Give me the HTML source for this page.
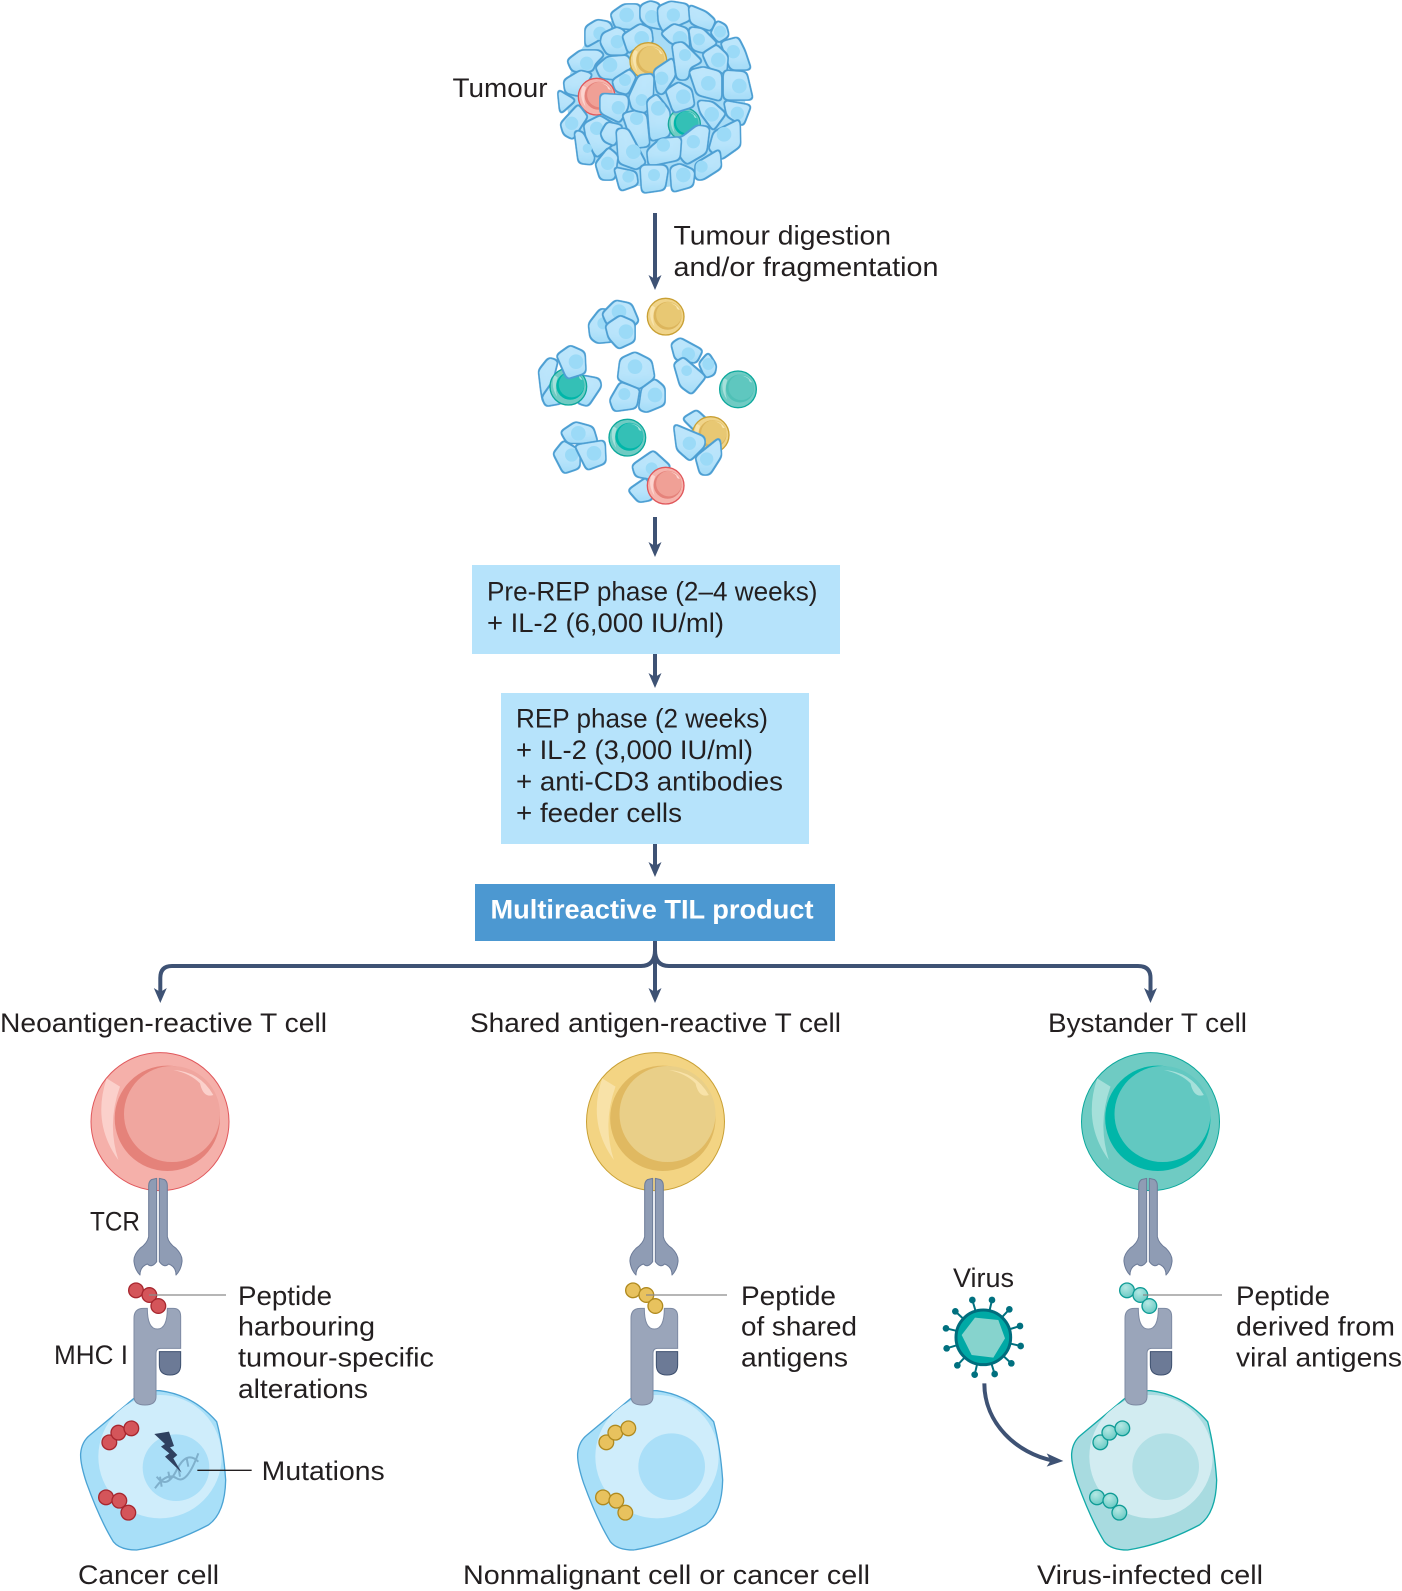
<!DOCTYPE html>
<html><head><meta charset="utf-8"><style>
html,body{margin:0;padding:0;background:#fff}
svg{display:block}
text{font-family:"Liberation Sans",sans-serif;font-size:27px;fill:#231f20}
.c{fill:url(#cg);filter:url(#rd)}
.n{fill:#9bdaf7}
.l{fill:none;stroke:#3e5274;stroke-width:4}
.h{fill:#3e5274}
.g{stroke:#8a8a8a;stroke-width:1.3}
.ye{--a:#f0d48a;--b:#f8e4ad;--d:#dcb55c;--e:#c9a034;--f:#e8c873}
.re{--a:#f6b4ad;--b:#fcd4cf;--d:#e5827a;--e:#e0575b;--f:#f0a096}
.te{--a:#6fcbc3;--b:#a5e0da;--d:#00b6a9;--e:#0ca89c;--f:#34c0b6}
.tl{--a:#6fcbc3;--b:#a5e0da;--d:#4fc0b6;--e:#0ca89c;--f:#5fc7bf}
</style></head><body>
<svg width="1402" height="1591" viewBox="0 0 1402 1591" xmlns="http://www.w3.org/2000/svg">
<defs>
<linearGradient id="cg" x1="0" y1="0" x2="0" y2="1"><stop offset="0" stop-color="#bfe7fc"/><stop offset="0.65" stop-color="#b8e4fb"/><stop offset="1" stop-color="#a3dcf8"/></linearGradient>
<radialGradient id="tp" cx=".4" cy=".3" r=".7"><stop offset="0" stop-color="#b5e8e4"/><stop offset="1" stop-color="#6ccbc5"/></radialGradient>
<filter id="rd" x="-20%" y="-20%" width="140%" height="140%" color-interpolation-filters="sRGB">
<feGaussianBlur in="SourceGraphic" stdDeviation="7" result="b"/>
<feComponentTransfer in="b" result="s"><feFuncA type="linear" slope="10" intercept="-3"/></feComponentTransfer>
<feMorphology in="s" operator="erode" radius="4.5" result="e"/>
<feFlood flood-color="#4d9fd3"/><feComposite in2="s" operator="in" result="o"/>
<feMerge><feMergeNode in="o"/><feMergeNode in="e"/></feMerge>
</filter>
<g id="tcell">
<circle cx="300" cy="245" r="207" style="fill:var(--a);stroke:var(--e)" stroke-width="3"/>
<path d="M140 115Q95 250 175 360Q140 250 180 140Z" style="fill:var(--b)"/>
<circle cx="322" cy="235" r="158" style="fill:var(--d)"/>
<circle cx="336" cy="222" r="144" style="fill:var(--f)"/>
<path d="M340 90Q420 95 460 165Q430 175 420 130Q390 100 340 90Z" style="fill:var(--b)"/>
</g>
<g id="tcr" fill="#8f9cb4" stroke="#6c7b98" stroke-width="3" stroke-linejoin="round">
<path d="M290 415L274 419Q266 425 266 437V590Q262 610 240 625Q220 645 222 665Q225 690 240 705Q240 680 262 672Q275 685 290 665Z"/>
<path d="M298 415L314 419Q322 425 322 437V590Q326 610 348 625Q368 645 366 665Q363 690 348 705Q348 680 326 672Q313 685 298 665Z"/>
</g>
<g id="mhc">
<path d="M222 320V85Q222 55 250 55H262Q262 117 292 117Q322 117 322 55H340Q362 55 362 80V175H302Q288 175 288 190V320Q288 345 255 345Q222 345 222 320Z" fill="#9aa5ba" stroke="#7d8aa3" stroke-width="3"/>
<path d="M298 185H362V225Q362 255 330 255Q298 255 298 225Z" fill="#6c7a96" stroke="#3f5170" stroke-width="3"/>
</g>
<path id="cellp" d="M62 490Q65 455 90 435L222 325Q255 300 300 302Q400 315 470 395Q490 470 497 570Q495 670 445 705Q330 765 230 780Q180 780 160 755Q120 690 80 580Q60 520 62 490Z"/>
<clipPath id="cc"><use href="#cellp"/></clipPath>
</defs>

<!-- Tumour -->
<g transform="translate(500 0) scale(.33333)">
<circle cx="468" cy="295" r="268" fill="#a8dcf6"/>
<polygon class="c" points="330,40 370,12 420,12 430,70 420,90 345,85"/><circle class="n" cx="380" cy="45" r="22"/>
<polygon class="c" points="420,15 450,2 480,10 490,90 440,80 420,60"/><circle class="n" cx="455" cy="50" r="20"/>
<polygon class="c" points="472,20 510,3 565,12 575,60 540,75 490,100 475,70"/><circle class="n" cx="520" cy="45" r="20"/>
<polygon class="c" points="565,12 620,35 648,60 635,95 590,80 570,70"/>
<polygon class="c" points="650,60 680,75 688,110 655,130 630,100"/><circle class="n" cx="660" cy="95" r="18"/>
<polygon class="c" points="255,80 290,58 330,65 340,85 300,120 255,145"/><circle class="n" cx="300" cy="100" r="20"/>
<polygon class="c" points="305,100 350,80 375,90 385,165 320,165 300,130"/><circle class="n" cx="352" cy="125" r="20"/>
<polygon class="c" points="365,105 420,70 455,85 460,130 400,150 385,165"/><circle class="n" cx="425" cy="115" r="22"/>
<polygon class="c" points="480,100 520,70 565,85 570,150 510,130"/><circle class="n" cx="540" cy="115" r="22"/>
<polygon class="c" points="565,80 610,85 655,130 610,160 575,150"/><circle class="n" cx="597" cy="118" r="18"/>
<polygon class="c" points="660,125 715,110 735,150 755,210 690,210"/><circle class="n" cx="700" cy="155" r="20"/>
<polygon class="c" points="605,160 650,132 685,165 680,225 625,205"/><circle class="n" cx="655" cy="180" r="22"/>
<polygon class="c" points="200,180 240,150 300,150 315,165 285,195 280,215 215,215"/><circle class="n" cx="260" cy="190" r="20"/>
<polygon class="c" points="285,200 320,170 385,165 400,200 350,240 300,235"/><circle class="n" cx="330" cy="195" r="22"/>
<g class="ye" transform="translate(445 183) scale(.2657) translate(-300 -245)"><use href="#tcell"/></g><circle cx="445" cy="183" r="55" fill="none" stroke="#c9a034" stroke-width="4"/>
<polygon class="c" points="335,240 390,205 410,230 385,285 345,275"/><circle class="n" cx="375" cy="240" r="18"/>
<polygon class="c" points="460,210 520,170 527,230 490,285 470,280"/><circle class="n" cx="485" cy="235" r="20"/>
<polygon class="c" points="515,130 550,125 610,185 570,205 565,240 530,240"/><circle class="n" cx="555" cy="165" r="18"/>
<polygon class="c" points="565,210 610,200 665,215 665,305 590,285"/><circle class="n" cx="625" cy="250" r="22"/>
<polygon class="c" points="670,210 740,215 760,300 670,300"/><circle class="n" cx="718" cy="258" r="22"/>
<polygon class="c" points="190,240 240,210 280,220 240,290 195,280"/>
<polygon class="c" points="172,265 195,280 230,300 180,345"/>
<g class="re" transform="translate(290 290) scale(.2657) translate(-300 -245)"><use href="#tcell"/></g><circle cx="290" cy="290" r="55" fill="none" stroke="#e0575b" stroke-width="4"/>
<polygon class="c" points="300,280 385,285 385,325 360,370 300,340"/><circle class="n" cx="355" cy="323" r="20"/>
<polygon class="c" points="180,370 235,310 265,350 245,380 220,420 190,405"/><circle class="n" cx="215" cy="370" r="20"/>
<polygon class="c" points="670,300 755,315 730,380 680,350"/><circle class="n" cx="712" cy="340" r="20"/>
<polygon class="c" points="590,300 640,305 680,340 640,395 600,340"/><circle class="n" cx="635" cy="343" r="22"/>
<polygon class="c" points="250,370 300,345 350,375 345,430 290,475 260,430"/><circle class="n" cx="290" cy="385" r="20"/>
<polygon class="c" points="300,400 320,365 370,375 345,440 310,425"/>
<polygon class="c" points="365,340 410,330 440,340 450,440 400,445"/><circle class="n" cx="410" cy="355" r="20"/>
<polygon class="c" points="385,290 415,225 462,220 460,290 440,340 395,330"/><circle class="n" cx="425" cy="300" r="18"/>
<polygon class="c" points="440,300 470,280 510,330 510,410 450,425"/><circle class="n" cx="475" cy="325" r="22"/>
<g class="te" transform="translate(553 372) scale(.2319) translate(-300 -245)"><use href="#tcell"/></g><circle cx="553" cy="372" r="48" fill="none" stroke="#17a89d" stroke-width="4"/>
<polygon class="c" points="495,270 535,245 575,265 585,320 520,340"/><circle class="n" cx="550" cy="290" r="22"/>
<polygon class="c" points="640,395 720,355 722,440 665,480 625,450"/><circle class="n" cx="672" cy="403" r="22"/>
<polygon class="c" points="222,390 250,395 285,470 280,495 235,490"/><circle class="n" cx="262" cy="445" r="14"/>
<polygon class="c" points="348,385 385,385 440,490 410,510 355,490"/><circle class="n" cx="400" cy="455" r="22"/>
<polygon class="c" points="510,420 545,410 590,375 630,380 620,460 560,495 545,480"/><circle class="n" cx="580" cy="425" r="20"/>
<polygon class="c" points="440,450 480,415 545,410 540,480 445,500"/><circle class="n" cx="490" cy="435" r="20"/>
<polygon class="c" points="285,490 325,440 355,465 345,540 300,540"/><circle class="n" cx="323" cy="490" r="20"/>
<polygon class="c" points="340,500 410,515 415,555 360,575"/><circle class="n" cx="385" cy="530" r="18"/>
<polygon class="c" points="420,495 500,495 505,510 495,570 425,580"/><circle class="n" cx="462" cy="525" r="18"/>
<polygon class="c" points="510,500 540,490 585,510 580,560 515,578"/><circle class="n" cx="550" cy="525" r="22"/>
<polygon class="c" points="585,490 660,445 665,505 610,540 585,540"/><circle class="n" cx="605" cy="500" r="18"/>
</g>

<!-- Dissociated -->
<g transform="translate(520 280) scale(.33333)">
<polygon class="c" points="205,130 240,85 270,90 285,185 230,190 210,175"/><circle class="n" cx="250" cy="130" r="18"/>
<polygon class="c" points="245,100 285,60 335,70 358,125 340,140 260,135"/><circle class="n" cx="297" cy="95" r="22"/>
<polygon class="c" points="255,135 300,105 345,125 345,185 295,208 265,175"/><circle class="n" cx="318" cy="155" r="22"/>
<g class="ye" transform="translate(437 110) scale(.2657) translate(-300 -245)"><use href="#tcell"/></g><circle cx="437" cy="110" r="55" fill="none" stroke="#c9a034" stroke-width="4"/>
<polygon class="c" points="55,270 85,232 115,240 100,300 70,380 62,330"/>
<polygon class="c" points="65,350 100,300 130,370 75,380"/>
<polygon class="c" points="185,285 240,295 245,320 205,380 170,370"/>
<g class="te" transform="translate(145 320) scale(.2657) translate(-300 -245)"><use href="#tcell"/></g><circle cx="145" cy="320" r="55" fill="none" stroke="#0ca89c" stroke-width="4"/>
<polygon class="c" points="108,225 150,195 195,215 198,280 140,298"/><circle class="n" cx="168" cy="245" r="22"/>
<polygon class="c" points="268,360 300,305 360,325 350,385 280,395"/><circle class="n" cx="313" cy="342" r="18"/>
<polygon class="c" points="355,390 365,320 405,295 435,320 435,375 380,398"/><circle class="n" cx="405" cy="345" r="22"/>
<polygon class="c" points="292,300 300,235 345,215 395,240 405,295 360,328"/><circle class="n" cx="345" cy="260" r="22"/>
<polygon class="c" points="452,190 480,172 550,210 530,250 465,240"/><circle class="n" cx="505" cy="222" r="20"/>
<polygon class="c" points="535,250 565,215 590,255 585,285 555,295"/><circle class="n" cx="565" cy="252" r="18"/>
<polygon class="c" points="460,250 490,230 560,290 515,345 480,320"/><circle class="n" cx="500" cy="272" r="16"/>
<g class="tl" transform="translate(654 328) scale(.2657) translate(-300 -245)"><use href="#tcell"/></g><circle cx="654" cy="328" r="55" fill="none" stroke="#0ca89c" stroke-width="4"/>
<polygon class="c" points="120,455 165,425 220,440 235,490 140,490"/><circle class="n" cx="175" cy="460" r="22"/>
<polygon class="c" points="98,520 130,480 180,510 180,565 130,582"/><circle class="n" cx="155" cy="525" r="20"/>
<polygon class="c" points="162,495 255,480 258,550 200,572"/><circle class="n" cx="222" cy="520" r="22"/>
<g class="te" transform="translate(322 473) scale(.2657) translate(-300 -245)"><use href="#tcell"/></g><circle cx="322" cy="473" r="55" fill="none" stroke="#0ca89c" stroke-width="4"/>
<polygon class="c" points="485,415 530,388 565,420 540,470"/>
<g class="ye" transform="translate(572 465) scale(.2657) translate(-300 -245)"><use href="#tcell"/></g><circle cx="572" cy="465" r="55" fill="none" stroke="#c9a034" stroke-width="4"/>
<polygon class="c" points="460,430 555,470 555,500 510,545 470,510"/><circle class="n" cx="508" cy="490" r="20"/>
<polygon class="c" points="525,530 600,470 605,530 570,585 540,585"/><circle class="n" cx="560" cy="537" r="20"/>
<polygon class="c" points="335,555 400,510 455,560 400,600 345,590"/><circle class="n" cx="395" cy="565" r="18"/>
<polygon class="c" points="322,630 380,590 400,660 355,668"/>
<g class="re" transform="translate(437 617) scale(.2657) translate(-300 -245)"><use href="#tcell"/></g><circle cx="437" cy="617" r="55" fill="none" stroke="#e0575b" stroke-width="4"/>
</g>

<!-- Arrows -->
<path class="l" d="M655 213V282M655 517V552M655 653V683M655 844V872"/>
<polygon class="h" points="648.500,275 655,279 661.500,275 655,290"/>
<polygon class="h" points="648.500,542 655,546 661.500,542 655,557"/>
<polygon class="h" points="648.500,673 655,677 661.500,673 655,688"/>
<polygon class="h" points="648.500,862 655,866 661.500,862 655,877"/>

<!-- Boxes -->
<rect x="472" y="565" width="368" height="89" fill="#b6e3fb"/>
<rect x="501" y="693" width="308" height="151" fill="#b6e3fb"/>
<rect x="475" y="884" width="360" height="57" fill="#4c98d1"/>

<!-- Tree -->
<path class="l" d="M655 941V998M160.300 998V978Q160.300 966 172 966H641Q655 966 655 950Q655 966 669 966H1138Q1150.500 966 1150.500 978V998"/>
<polygon class="h" points="153.800,988 160.300,992 166.800,988 160.300,1003"/>
<polygon class="h" points="648.500,988 655,992 661.500,988 655,1003"/>
<polygon class="h" points="1144,988 1150.500,992 1157,988 1150.500,1003"/>

<!-- T cells -->
<g style="--a:#f5b0aa;--b:#fbd0cb;--d:#e5827a;--e:#e0575b;--f:#f0a69f" transform="translate(60 1040) scale(.33333)"><use href="#tcell"/></g>
<g style="--a:#f3d483;--b:#f8e2a8;--d:#e0b961;--e:#c9a034;--f:#e9cf88" transform="translate(555.500 1040) scale(.33333)"><use href="#tcell"/></g>
<g style="--a:#6fcbc3;--b:#a5e0da;--d:#00b6a9;--e:#0ca89c;--f:#62c8c1" transform="translate(1050.500 1040) scale(.33333)"><use href="#tcell"/></g>

<!-- Cells + MHC + TCR -->
<g transform="translate(60 1290) scale(.33333)">
<use href="#cellp" fill="#a8dff8" stroke="#4ba3d4" stroke-width="4"/>
<circle cx="300" cy="500" r="185" fill="#cfedfb" clip-path="url(#cc)"/>
<circle cx="348" cy="533" r="100" fill="#aadff8"/>
<g fill="none" stroke="#7fb0cc" stroke-width="6"><path d="M285 595Q320 545 350 565T415 490"/><path d="M290 560Q320 600 350 540T415 515"/><path d="M305 590L300 560M330 570L325 545M360 560L355 530M385 530L380 505"/></g>
<polygon points="283,432 327,425 342,468 330,472 352,495 340,505 365,548 315,500 328,490 303,470 315,462" fill="#2f4160"/>
<path d="M412 541H575" stroke="#231f20" stroke-width="4"/>
<use href="#mhc"/>
</g>
<g transform="translate(557 1290) scale(.33333)">
<use href="#cellp" fill="#a8dff8" stroke="#4ba3d4" stroke-width="4"/>
<circle cx="300" cy="500" r="185" fill="#cfedfb" clip-path="url(#cc)"/>
<circle cx="344" cy="530" r="100" fill="#aadff8"/>
<use href="#mhc"/>
</g>
<g transform="translate(1051 1290) scale(.33333)">
<use href="#cellp" fill="#a8dbe0" stroke="#12aaa8" stroke-width="4"/>
<circle cx="300" cy="500" r="185" fill="#d2ecf1" clip-path="url(#cc)"/>
<circle cx="344" cy="530" r="100" fill="#b2e0e6"/>
<use href="#mhc"/>
</g>
<g transform="translate(60 1040) scale(.33333)"><use href="#tcr"/></g>
<g transform="translate(556 1040) scale(.33333)"><use href="#tcr"/></g>
<g transform="translate(1050 1040) scale(.33333)"><use href="#tcr"/></g>

<!-- Peptides -->
<g fill="#d4555a" stroke="#a8272f" stroke-width="4">
<g transform="translate(60 1040) scale(.33333)"><circle cx="228" cy="751" r="22"/><circle cx="268" cy="765" r="22"/><circle cx="295" cy="798" r="22"/></g>
<g transform="translate(60 1290) scale(.33333)"><circle cx="148" cy="457" r="22"/><circle cx="175" cy="428" r="22"/><circle cx="214" cy="415" r="22"/><circle cx="138" cy="622" r="22"/><circle cx="178" cy="632" r="22"/><circle cx="205" cy="668" r="22"/></g>
</g>
<g fill="#e8c25e" stroke="#b08a1f" stroke-width="4">
<g transform="translate(557 1040) scale(.33333)"><circle cx="228" cy="751" r="22"/><circle cx="268" cy="765" r="22"/><circle cx="295" cy="798" r="22"/></g>
<g transform="translate(557 1290) scale(.33333)"><circle cx="148" cy="457" r="22"/><circle cx="175" cy="428" r="22"/><circle cx="214" cy="415" r="22"/><circle cx="138" cy="622" r="22"/><circle cx="178" cy="632" r="22"/><circle cx="205" cy="668" r="22"/></g>
</g>
<g fill="url(#tp)" stroke="#0f9c96" stroke-width="4">
<g transform="translate(1051 1040) scale(.33333)"><circle cx="228" cy="751" r="22"/><circle cx="268" cy="765" r="22"/><circle cx="295" cy="798" r="22"/></g>
<g transform="translate(1051 1290) scale(.33333)"><circle cx="148" cy="457" r="22"/><circle cx="175" cy="428" r="22"/><circle cx="214" cy="415" r="22"/><circle cx="138" cy="622" r="22"/><circle cx="178" cy="632" r="22"/><circle cx="205" cy="668" r="22"/></g>
</g>
<path class="g" d="M149 1295H226M646 1295H727M1143 1295H1222"/>

<!-- Virus -->
<g transform="translate(930 1250) scale(.33333)">
<g stroke="#00707f" stroke-width="6"><path d="M127 150L160 262M186 150L160 262M238 178L160 262M270 228L160 262M272 288L160 262M244 340L160 262M194 372L160 262M134 374L160 262M82 346L160 262M50 295L160 262M48 235L160 262M76 184L160 262"/></g>
<g fill="#00707f"><circle cx="127" cy="150" r="10"/><circle cx="186" cy="150" r="10"/><circle cx="238" cy="178" r="10"/><circle cx="270" cy="228" r="10"/><circle cx="272" cy="288" r="10"/><circle cx="244" cy="340" r="10"/><circle cx="194" cy="372" r="10"/><circle cx="134" cy="374" r="10"/><circle cx="82" cy="346" r="10"/><circle cx="50" cy="295" r="10"/><circle cx="48" cy="235" r="10"/><circle cx="76" cy="184" r="10"/></g>
<circle cx="160" cy="262" r="82" fill="#00a9a5" stroke="#006d7d" stroke-width="9"/>
<polygon points="135,203 205,210 225,265 190,323 125,315 95,255" fill="#86d3cd"/>
<path d="M163 400C163 520 260 610 370 632" fill="none" stroke="#3e5274" stroke-width="12"/>
<polygon points="350,610 400,633 350,650 362,632" fill="#3e5274"/>
</g>

<!-- Text -->
<text x="452.500" y="97" textLength="95" lengthAdjust="spacingAndGlyphs">Tumour</text>
<text x="673.500" y="244.500" textLength="217.500" lengthAdjust="spacingAndGlyphs">Tumour digestion</text>
<text x="673.500" y="276" textLength="265" lengthAdjust="spacingAndGlyphs">and/or fragmentation</text>
<text x="487" y="600.500" textLength="330.500" lengthAdjust="spacingAndGlyphs">Pre-REP phase (2–4 weeks)</text>
<text x="487" y="632" textLength="237" lengthAdjust="spacingAndGlyphs">+ IL-2 (6,000 IU/ml)</text>
<text x="516" y="727.400" textLength="252" lengthAdjust="spacingAndGlyphs">REP phase (2 weeks)</text>
<text x="516" y="758.900" textLength="237" lengthAdjust="spacingAndGlyphs">+ IL-2 (3,000 IU/ml)</text>
<text x="516" y="790.300" textLength="267" lengthAdjust="spacingAndGlyphs">+ anti-CD3 antibodies</text>
<text x="516" y="821.800" textLength="166" lengthAdjust="spacingAndGlyphs">+ feeder cells</text>
<text x="490.500" y="918.500" textLength="323" lengthAdjust="spacingAndGlyphs" style="fill:#fff;font-weight:bold">Multireactive TIL product</text>
<text x="0" y="1032" textLength="327" lengthAdjust="spacingAndGlyphs">Neoantigen-reactive T cell</text>
<text x="470" y="1032" textLength="371" lengthAdjust="spacingAndGlyphs">Shared antigen-reactive T cell</text>
<text x="1048" y="1032" textLength="199" lengthAdjust="spacingAndGlyphs">Bystander T cell</text>
<text x="90" y="1230.700" textLength="50" lengthAdjust="spacingAndGlyphs">TCR</text>
<text x="54" y="1364" textLength="74" lengthAdjust="spacingAndGlyphs">MHC I</text>
<text x="238" y="1305" textLength="94" lengthAdjust="spacingAndGlyphs">Peptide</text>
<text x="238" y="1335.700" textLength="137" lengthAdjust="spacingAndGlyphs">harbouring</text>
<text x="238" y="1366.700" textLength="196" lengthAdjust="spacingAndGlyphs">tumour-specific</text>
<text x="238" y="1398" textLength="130" lengthAdjust="spacingAndGlyphs">alterations</text>
<text x="261.700" y="1480" textLength="123" lengthAdjust="spacingAndGlyphs">Mutations</text>
<text x="78" y="1584" textLength="141" lengthAdjust="spacingAndGlyphs">Cancer cell</text>
<text x="741" y="1305" textLength="95" lengthAdjust="spacingAndGlyphs">Peptide</text>
<text x="741" y="1335.700" textLength="116" lengthAdjust="spacingAndGlyphs">of shared</text>
<text x="741" y="1366.700" textLength="107" lengthAdjust="spacingAndGlyphs">antigens</text>
<text x="463" y="1584" textLength="407" lengthAdjust="spacingAndGlyphs">Nonmalignant cell or cancer cell</text>
<text x="953" y="1287" textLength="61" lengthAdjust="spacingAndGlyphs">Virus</text>
<text x="1236" y="1305" textLength="94" lengthAdjust="spacingAndGlyphs">Peptide</text>
<text x="1236" y="1335.700" textLength="159" lengthAdjust="spacingAndGlyphs">derived from</text>
<text x="1236" y="1366.700" textLength="166" lengthAdjust="spacingAndGlyphs">viral antigens</text>
<text x="1037" y="1584" textLength="226" lengthAdjust="spacingAndGlyphs">Virus-infected cell</text>
</svg>
</body></html>
